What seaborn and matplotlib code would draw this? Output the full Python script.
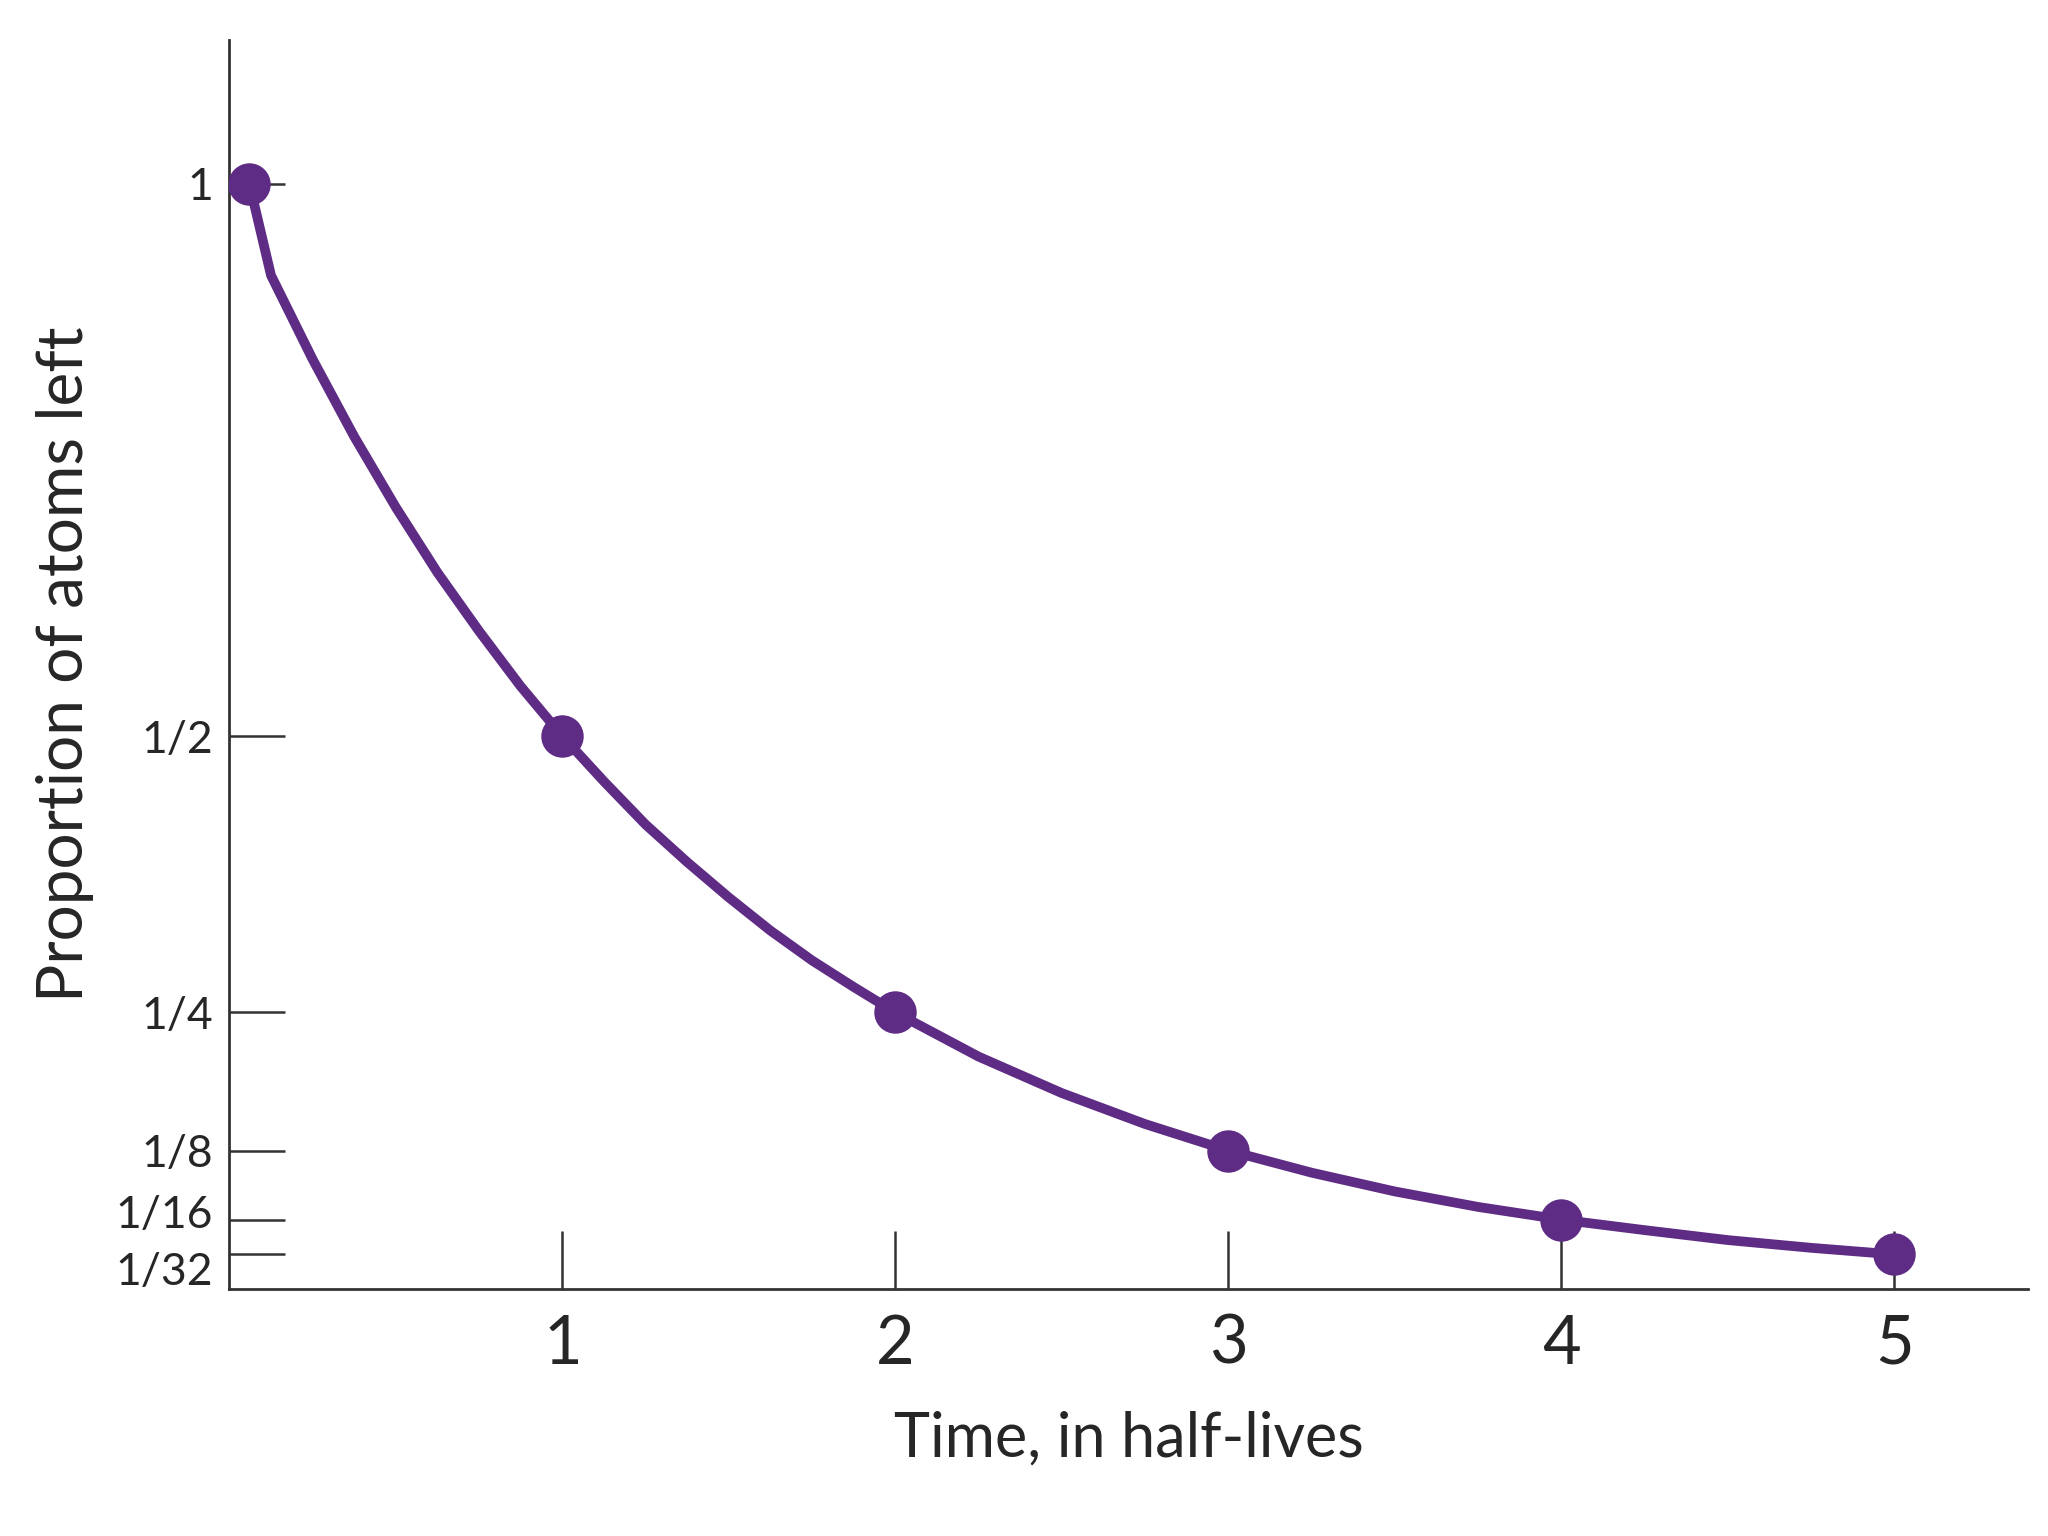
import numpy as np
import pandas as pd
import matplotlib
matplotlib.use("Agg")
import matplotlib.pyplot as plt
import matplotlib.transforms as mtransforms
import seaborn as sns

# marked points (half-lives, proportion left)
half_lives = [0.06, 1, 2, 3, 4, 5]
proportion = [1.0, 0.5, 0.25, 0.125, 0.0625, 0.03125]

# points
curve_t = [0.06, 0.125, 0.25, 0.375, 0.5, 0.625, 0.75, 0.875, 1.0, 1.125, 1.25,
           1.375, 1.5, 1.625, 1.75, 1.875, 2.0, 2.25, 2.5, 2.75, 3.0, 3.25,
           3.5, 3.75, 4.0, 4.25, 4.5, 4.75, 5.0]
curve_p = [1.0, 0.917, 0.841, 0.771, 0.707, 0.648, 0.595, 0.545, 0.5, 0.459,
           0.42, 0.386, 0.354, 0.324, 0.297, 0.273, 0.25, 0.21, 0.177, 0.149,
           0.125, 0.105, 0.088, 0.074, 0.0625, 0.053, 0.044, 0.037, 0.031]

ytick_vals = [1, 0.5, 0.25, 0.125, 0.0625, 0.03125]
ytick_labels = ["1", "1/2", "1/4", "1/8", "1/16", "1/32"]
xtick_vals = [1, 2, 3, 4, 5]

sns.set_style("white")
plt.rcParams['font.family'] = ['Lato', 'DejaVu Sans']
purple = "#5f2c85"

fig = plt.figure(figsize=(20.48, 15.36), dpi=100)
ax = fig.add_axes([0.112, 0.161, 0.878, 0.813])

sns.lineplot(x=curve_t, y=curve_p, ax=ax, color=purple, linewidth=7, sort=True)
sns.scatterplot(x=half_lives, y=proportion, ax=ax, color=purple, s=800,
                edgecolor=purple, zorder=5)

ax.set_xlim(0, 5.4)
ax.set_ylim(0, 1.13)
ax.set_xticks(xtick_vals)
ax.set_xticklabels([str(v) for v in xtick_vals], fontsize=48)
ax.set_yticks(ytick_vals)
ax.set_yticklabels(ytick_labels, fontsize=32)
ax.tick_params(axis='x', bottom=True, direction='in', length=42, width=1.8,
               pad=18, color='#333333')
ax.tick_params(axis='y', left=True, direction='in', length=40, width=1.8,
               pad=12, color='#333333')

# nudge the crowded lowest labels apart
for lbl, dy in zip(ax.get_yticklabels(), [0, 0, 0, 0, 6, -10]):
    lbl.set_transform(lbl.get_transform() +
                      mtransforms.ScaledTranslation(0, dy / 72, fig.dpi_scale_trans))

for side in ['top', 'right']:
    ax.spines[side].set_visible(False)
for side in ['left', 'bottom']:
    ax.spines[side].set_linewidth(2)
    ax.spines[side].set_color('#333333')

ax.set_xlabel("Time, in half-lives", fontsize=44, labelpad=25)
ax.set_ylabel("Proportion of atoms left", fontsize=46, labelpad=15)

fig.savefig("out.png", dpi=100)
